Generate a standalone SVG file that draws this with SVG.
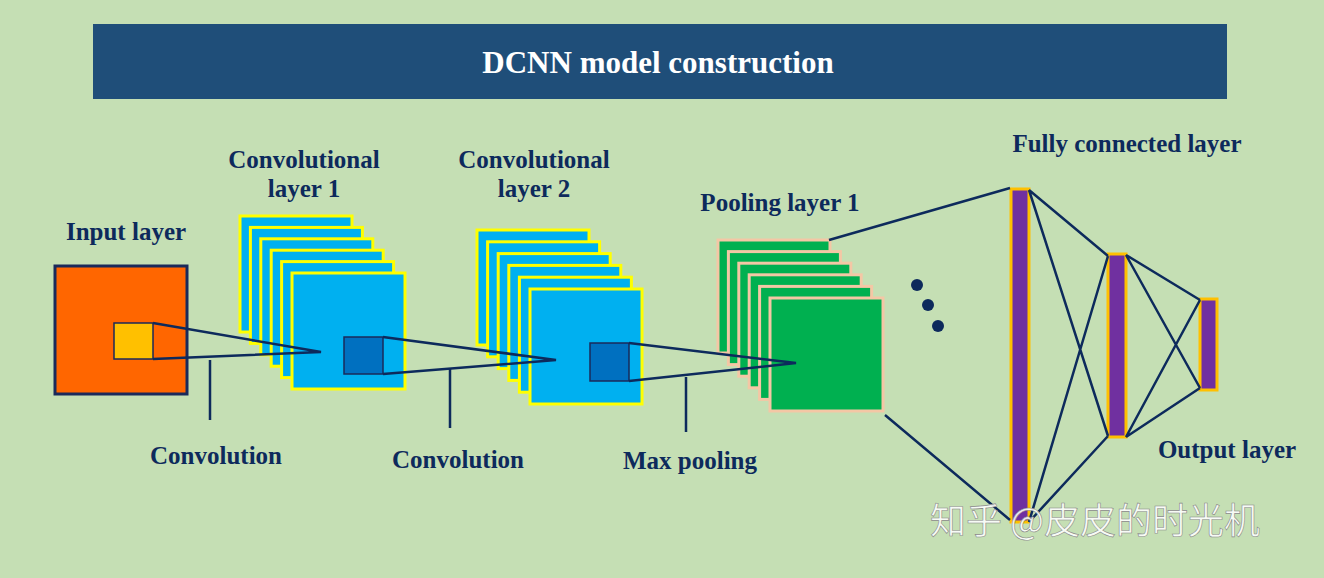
<svg xmlns="http://www.w3.org/2000/svg" width="1324" height="578" viewBox="0 0 1324 578">
<style>
.t{font-family:"Liberation Serif",serif;font-weight:bold;font-size:25px;fill:#0d2a5c;text-anchor:middle}
.c{fill:#00b0f0;stroke:#ffff00;stroke-width:3}
.p{fill:#00b050;stroke:#f4c7a5;stroke-width:3}
.b{fill:#7030a0;stroke:#ffc000;stroke-width:3}
.l{stroke:#0d2a5c;stroke-width:2.5;fill:none}
</style>
<rect width="1324" height="578" fill="#c5dfb4"/>
<g id="title"><rect x="93" y="24" width="1134" height="75" fill="#1f4e79"/>
<text x="658" y="73" class="t" style="fill:#fff;font-size:31px">DCNN model construction</text></g>
<g id="input"><rect x="55" y="266" width="132" height="128" fill="#ff6600" stroke="#1a2a5a" stroke-width="3"/>
<rect x="114" y="323" width="39" height="36" fill="#ffc000" stroke="#1a2a5a" stroke-width="1.5"/>
<text x="126" y="240" class="t">Input layer</text></g>
<g id="conv1">
<rect class="c" x="240" y="216" width="112" height="116"/>
<rect class="c" x="250.4" y="227.4" width="112" height="116"/>
<rect class="c" x="260.8" y="238.8" width="112" height="116"/>
<rect class="c" x="271.2" y="250.2" width="112" height="116"/>
<rect class="c" x="281.6" y="261.6" width="112" height="116"/>
<rect class="c" x="292" y="273" width="113" height="116"/>
<rect x="344" y="337" width="39" height="37" fill="#0070c0" stroke="#1a2a5a" stroke-width="1.5"/>
<text x="304" y="168" class="t">Convolutional</text><text x="304" y="197" class="t">layer 1</text></g>
<g id="conv2">
<rect class="c" x="477" y="230" width="112" height="115"/>
<rect class="c" x="487.6" y="241.8" width="112" height="115"/>
<rect class="c" x="498.2" y="253.6" width="112" height="115"/>
<rect class="c" x="508.8" y="265.4" width="112" height="115"/>
<rect class="c" x="519.4" y="277.2" width="112" height="115"/>
<rect class="c" x="530" y="289" width="112" height="115"/>
<rect x="590" y="343" width="39" height="38" fill="#0070c0" stroke="#1a2a5a" stroke-width="1.5"/>
<text x="534" y="168" class="t">Convolutional</text><text x="534" y="197" class="t">layer 2</text></g>
<g id="pool1">
<rect class="p" x="718" y="240" width="112" height="113"/>
<rect class="p" x="728.4" y="251.6" width="112" height="113"/>
<rect class="p" x="738.8" y="263.2" width="112" height="113"/>
<rect class="p" x="749.2" y="274.8" width="112" height="113"/>
<rect class="p" x="759.6" y="286.4" width="112" height="113"/>
<rect class="p" x="770" y="298" width="113" height="113"/>
<text x="780" y="211" class="t">Pooling layer 1</text></g>
<g id="dots" fill="#0d2a5c"><circle cx="917" cy="285" r="6"/><circle cx="928" cy="305" r="6"/><circle cx="938" cy="326" r="6"/></g>
<g id="fc"><rect class="b" x="1011" y="189" width="18" height="333"/>
<rect class="b" x="1108" y="254" width="18" height="183"/>
<text x="1127" y="152" class="t">Fully connected layer</text></g>
<g id="output"><rect class="b" x="1200" y="299" width="17" height="91"/>
<text x="1227" y="458" class="t">Output layer</text></g>
<g id="connectors" class="l">
<path d="M153 323L321 352L153 359M383 337L556 360L383 374M629 343L796 363L629 381"/>
<path d="M210 360V420M450 368V428M686 377V432"/>
<path d="M829 240L1010 188M885 415L1010 520"/>
<path d="M1029 190L1108 256M1029 190L1108 436M1029 522L1108 256M1029 522L1108 436"/>
<path d="M1126 255L1200 300M1126 255L1200 388M1126 437L1200 300M1126 437L1200 388"/>
</g>
<g id="labels"><text x="216" y="464" class="t">Convolution</text><text x="458" y="468" class="t">Convolution</text><text x="690" y="469" class="t">Max pooling</text></g>
<text x="930" y="534" font-family="Noto Sans CJK SC,sans-serif" font-size="36" fill="#fff" fill-opacity="0.9" stroke="#888" stroke-width="0.6">知乎 @皮皮的时光机</text>
</svg>
